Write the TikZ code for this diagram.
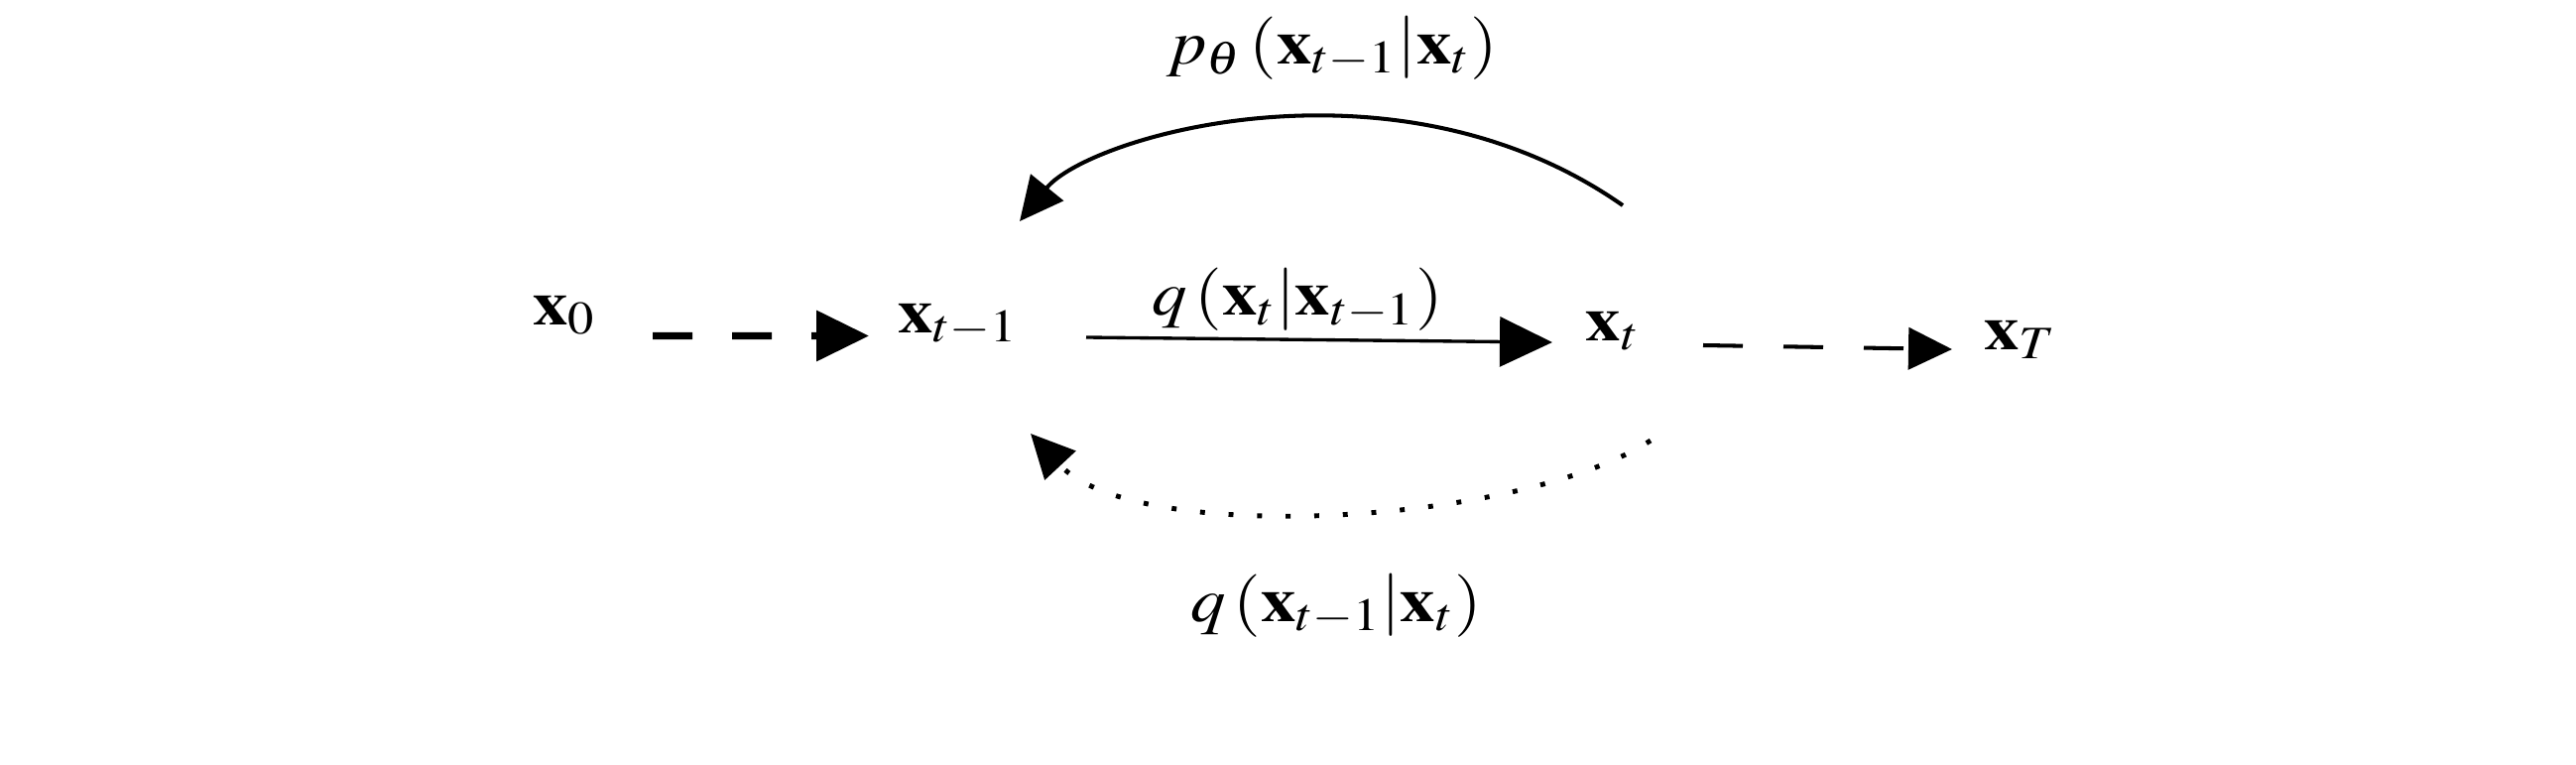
\documentclass[tikz,border=0pt]{standalone}
\usepackage{graphicx}
\usepackage{mathptmx}
\usepackage{tikz}
\usetikzlibrary{arrows.meta, calc}
\newcommand{\wide}[1]{\scalebox{1.12}[1]{$#1$}}

\begin{document}
\begin{tikzpicture}[
  var/.style={inner sep=0pt, anchor=base, font=\fontsize{18}{22}\selectfont},
  bigtip/.style={-{Triangle[length=5.3mm, width=5mm]}},
  smalltip/.style={-{Triangle[length=4.4mm, width=4.2mm]}},
  fwddash/.style={bigtip, line width=2pt, dash pattern=on 4mm off 4mm},
  taildash/.style={smalltip, line width=1.15pt, dash pattern=on 4mm off 4.1mm},
  fwd/.style={bigtip, line width=0.95pt},
  rev/.style={smalltip, line width=1.15pt},
  revdot/.style={smalltip, line width=1.4pt, dash pattern=on 1.4pt off 6.8pt},
]
  \useasboundingbox (0,0) rectangle (25.97,7.70);

  \node[var] (x0)  at (5.69,4.43)  {\wide{\mathbf{x}_0}};
  \node[var] (xtm) at (9.66,4.35)  {\wide{\mathbf{x}_{t-1}}};
  \node[var] (xt)  at (16.26,4.27) {\wide{\mathbf{x}_t}};
  \node[var] (xT)  at (20.37,4.18) {\wide{\mathbf{x}_T}};

  % labels
  \node[var] (pl) at (13.43,7.06) {\wide{p_\theta\left(\mathbf{x}_{t-1}\middle|\mathbf{x}_t\right)}};
  \node[var] (ql) at (13.08,4.52) {\wide{q\left(\mathbf{x}_t\middle|\mathbf{x}_{t-1}\right)}};
  \node[var] (rl) at (13.47,1.44) {\wide{q\left(\mathbf{x}_{t-1}\middle|\mathbf{x}_t\right)}};

  \draw[fwddash] ([xshift=0.89cm, yshift=-0.115cm]x0.base) -- ([xshift=-0.90cm, yshift=-0.035cm]xtm.base);
  \draw[fwd] ([xshift=1.29cm, yshift=-0.05cm]xtm.base) -- ([xshift=-0.61cm, yshift=-0.02cm]xt.base);
  \draw[taildash] ([xshift=0.91cm, yshift=-0.05cm]xt.base) -- ([xshift=-0.69cm]xT.base);

  \draw[rev] ([xshift=0.10cm, yshift=1.36cm]xt.base)
    .. controls +(145:2.8) and +(51:1.1) .. ([xshift=0.62cm, yshift=1.12cm]xtm.base);
  \draw[revdot] ([xshift=0.38cm, yshift=-1.01cm]xt.base)
    .. controls +(213:1.56) and +(313:1.56) .. ([xshift=0.73cm, yshift=-1.02cm]xtm.base);
\end{tikzpicture}
\end{document}
